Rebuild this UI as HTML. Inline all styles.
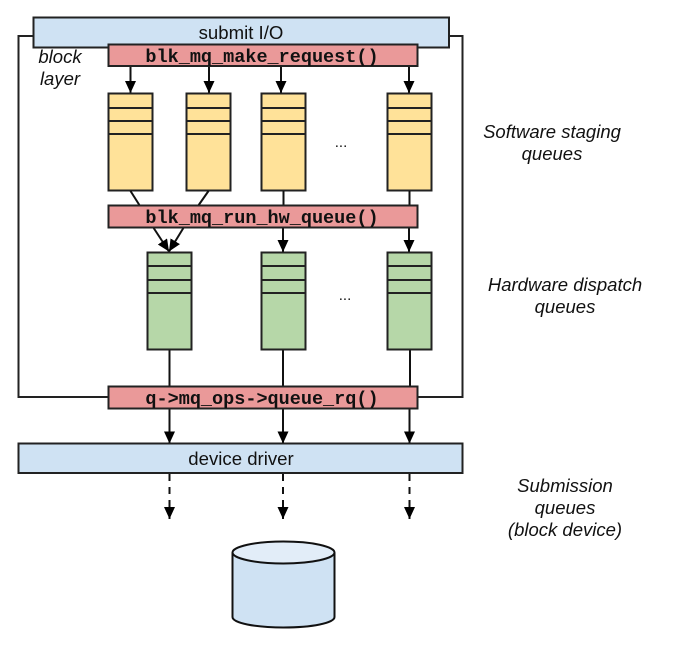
<!DOCTYPE html>
<html>
<head>
<meta charset="utf-8">
<style>
html,body{margin:0;padding:0;background:#fff;width:679px;height:659px;overflow:hidden}
svg{display:block}
.s{font-family:"Liberation Sans",sans-serif;font-size:18.600px;fill:#111}
.i{font-family:"Liberation Sans",sans-serif;font-size:18.500px;font-style:italic;fill:#111;text-anchor:middle}
.m{font-family:"Liberation Mono",monospace;font-size:18.500px;font-weight:bold;fill:#111;text-anchor:middle}
</style>
</head>
<body>
<svg width="679" height="659" viewBox="0 0 679 659" xmlns="http://www.w3.org/2000/svg">
<defs>
<marker id="a" markerUnits="userSpaceOnUse" markerWidth="12" markerHeight="13" refX="12" refY="5.500" orient="auto"><path d="M0 0L12 5.500L0 11Z" fill="#000"/></marker>
<g id="y"><rect x=".5" y=".5" width="44" height="97" fill="#ffe299" stroke="#222" stroke-width="2"/><path d="M.5 15H44.500M.5 28H44.500M.5 41H44.500" stroke="#222" stroke-width="2"/></g>
<g id="g"><rect x=".5" y=".5" width="44" height="97" fill="#b6d7a8" stroke="#222" stroke-width="2"/><path d="M.5 14H44.500M.5 28H44.500M.5 41H44.500" stroke="#222" stroke-width="2"/></g>
</defs>

<g fill="none" stroke="#222" stroke-width="2">
<path d="M33 36H18.500V397H108"/>
<path d="M449 36H462.500V397H417"/>
</g>

<rect x="33.500" y="17.500" width="415.500" height="30" fill="#cfe2f3" stroke="#222" stroke-width="2"/>
<text class="s" x="241" y="39" text-anchor="middle">submit I/O</text>
<text class="i" x="60" y="63">block</text>
<text class="i" x="60" y="85">layer</text>

<g stroke="#111" stroke-width="2" fill="none">
<path d="M130.500 66V93" marker-end="url(#a)"/>
<path d="M209 66V93" marker-end="url(#a)"/>
<path d="M281 66V93" marker-end="url(#a)"/>
<path d="M409 66V93" marker-end="url(#a)"/>
</g>

<use href="#y" x="108" y="93"/>
<use href="#y" x="186" y="93"/>
<use href="#y" x="261" y="93"/>
<use href="#y" x="387" y="93"/>

<g stroke="#111" stroke-width="2" fill="none">
<path d="M130.500 191L140 206"/>
<path d="M208.500 191L198 206"/>
<path d="M283.500 191V206"/>
<path d="M409.500 191V206"/>
<path d="M153 227L169 251.500" marker-end="url(#a)"/>
<path d="M184 227L169 251.500" marker-end="url(#a)"/>
<path d="M283 227V252" marker-end="url(#a)"/>
<path d="M409 227V252" marker-end="url(#a)"/>
<path d="M169.500 350V387"/>
<path d="M283 350V387"/>
<path d="M410 350V387"/>
<path d="M169.500 408V443.500" marker-end="url(#a)"/>
<path d="M283 408V443.500" marker-end="url(#a)"/>
<path d="M409.500 408V443.500" marker-end="url(#a)"/>
<path d="M169.500 474V519" stroke-dasharray="7 6" marker-end="url(#a)"/>
<path d="M283 474V519" stroke-dasharray="7 6" marker-end="url(#a)"/>
<path d="M409.500 474V519" stroke-dasharray="7 6" marker-end="url(#a)"/>
</g>

<use href="#g" x="147" y="252"/>
<use href="#g" x="261" y="252"/>
<use href="#g" x="387" y="252"/>

<rect x="108.500" y="44.500" width="309" height="21.500" fill="#ea9999" stroke="#222" stroke-width="2"/>
<rect x="108.500" y="205.500" width="309" height="22" fill="#ea9999" stroke="#222" stroke-width="2"/>
<rect x="108.500" y="386.500" width="309" height="22" fill="#ea9999" stroke="#222" stroke-width="2"/>
<text class="m" x="262" y="62">blk_mq_make_request()</text>
<text class="m" x="262" y="223">blk_mq_run_hw_queue()</text>
<text class="m" x="262" y="404">q-&gt;mq_ops-&gt;queue_rq()</text>

<text class="s" x="341" y="147" text-anchor="middle" style="font-size:15px">...</text>
<text class="s" x="345" y="300" text-anchor="middle" style="font-size:15px">...</text>

<text class="i" x="552" y="138">Software staging</text>
<text class="i" x="552" y="160">queues</text>
<text class="i" x="565" y="291">Hardware dispatch</text>
<text class="i" x="565" y="313">queues</text>
<text class="i" x="565" y="492">Submission</text>
<text class="i" x="565" y="514">queues</text>
<text class="i" x="565" y="536">(block device)</text>

<rect x="18.500" y="443.500" width="444" height="29.500" fill="#cfe2f3" stroke="#222" stroke-width="2"/>
<text class="s" x="241" y="465" text-anchor="middle">device driver</text>

<path d="M232.500 552.500V617C232.500 623 255 627.500 283.500 627.500S334.500 623 334.500 617V552.500" fill="#cfe2f3" stroke="#111" stroke-width="2"/>
<ellipse cx="283.500" cy="552.500" rx="51" ry="11" fill="#e2edf8" stroke="#111" stroke-width="2"/>
</svg>
</body>
</html>
